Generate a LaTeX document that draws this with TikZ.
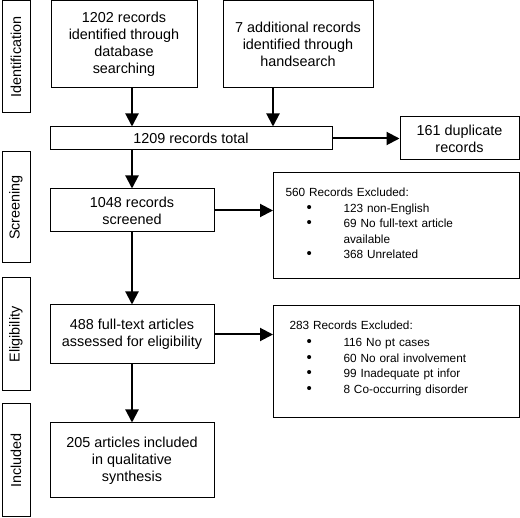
\documentclass[tikz,border=0pt]{standalone}
\usepackage{fontspec}
\setmainfont{Liberation Sans}
\usetikzlibrary{positioning,arrows.meta}

\newcommand{\bitem}[1]{\makebox[58pt][l]{\hspace*{21pt}{\fontsize{15}{15}\selectfont\textbullet}}#1}
\newcommand{\bcont}[1]{\makebox[58pt][l]{}#1}

\begin{document}
\begin{tikzpicture}[
  x=1pt, y=-1pt,
  stage/.style={
    draw, line width=1pt, rotate=90, minimum width=#1,
    minimum height=28pt, inner sep=0pt,
    font=\fontsize{14.4}{17}\selectfont
  },
  box/.style={
    draw, line width=1pt, align=center, inner sep=0pt,
    font=\fontsize{14.4}{17}\selectfont
  },
  exbox/.style={
    draw, line width=1pt, text width=222pt, inner xsep=12pt,
    inner ysep=0pt, align=left, text height=24pt, text depth=#1,
    font=\fontsize{11.8}{15.6}\selectfont
  },
  flow/.style={-{Triangle[width=13pt,length=13pt]}, line width=2pt}
]
\useasboundingbox (0,0) rectangle (520,518);

% stage labels on the left
\node[stage=112pt] (idn) at (16,57) {Identification};
\node[stage=111pt] (scn) at (16,207.5) {Screening};
\node[stage=113pt] (elg) at (16,334.5) {Eligibility};
\node[stage=113pt] (inc) at (16,460.5) {Included};

% main flow
\node[box, minimum width=146pt, minimum height=87pt] (rec1202) at (124,44.5)
  {1202 records\\identified through\\database\\searching};
\node[box, minimum width=150pt, minimum height=87pt] (rec7) at (298,44.5)
  {7 additional records\\identified through\\handsearch};
\node[box, minimum width=282pt, minimum height=23pt] (tot) at (191,138.5)
  {1209 records total};
\node[box, minimum width=119pt, minimum height=43pt] (dup) at (459.5,138.5)
  {161 duplicate\\records};
\node[box, minimum width=164pt, minimum height=43pt] (scr) at (132,210.5)
  {1048 records\\screened};
\node[box, minimum width=164pt, minimum height=59pt] (full) at (132,334.5)
  {488 full-text articles\\assessed for eligibility};
\node[box, minimum width=164pt, minimum height=75pt] (incl) at (132,460.5)
  {205 articles included\\in qualitative\\synthesis};

% exclusion boxes
\node[exbox=82pt, anchor=north west] (exc1) at (273,172)
  {560 Records Excluded:\\
   \bitem{123 non-English}\\
   \bitem{69 No full-text article}\\
   \bcont{available}\\
   \bitem{368 Unrelated}};
\node[exbox=88pt, anchor=north west] (exc2) at (273,305)
  {\hspace*{4pt}283 Records Excluded:\\[1.5pt]
   \bitem{116 No pt cases}\\
   \bitem{60 No oral involvement}\\
   \bitem{99 Inadequate pt infor}\\
   \bitem{8 Co-occurring disorder}};

% arrows
\draw[flow] (rec1202.south -| scr.north) -- (tot.north -| scr.north);
\draw[flow] (rec7.south -| exc1.west) -- (tot.north -| exc1.west);
\draw[flow] (tot.east) -- (dup.west);
\draw[flow] (tot.south -| scr.north) -- (scr.north);
\draw[flow] (scr.east) -- (scr.east -| exc1.west);
\draw[flow] (scr) -- (full);
\draw[flow] (full.east) -- (full.east -| exc2.west);
\draw[flow] (full) -- (incl);
\end{tikzpicture}
\end{document}
